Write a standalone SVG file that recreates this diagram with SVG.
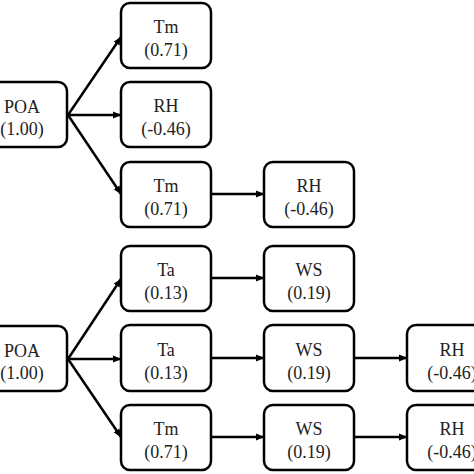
<svg xmlns="http://www.w3.org/2000/svg" width="474" height="474" viewBox="0 0 474 474">
<defs>
<style>
.box{fill:#fff;stroke:#000;stroke-width:2.5}
.t{font-family:"Liberation Serif","Times New Roman",serif;font-size:18px;fill:#222;text-anchor:middle}
.c{stroke:#000;stroke-width:2.5;fill:none;marker-end:url(#ah)}
</style>
<marker id="ah" markerUnits="userSpaceOnUse" markerWidth="9" markerHeight="8" refX="8" refY="4" orient="auto">
<path d="M0,0.5 L8.5,4 L0,7.5 z" fill="#000"/>
</marker>
</defs>
<rect width="474" height="474" fill="#fff"/>
<g id="connectors">
<line class="c" x1="68" y1="115" x2="121" y2="37"/>
<line class="c" x1="68" y1="115" x2="121" y2="115"/>
<line class="c" x1="68" y1="115" x2="121" y2="194"/>
<line class="c" x1="211" y1="194" x2="264" y2="194"/>
<line class="c" x1="68" y1="359" x2="121" y2="279"/>
<line class="c" x1="68" y1="359" x2="121" y2="359"/>
<line class="c" x1="68" y1="359" x2="121" y2="437"/>
<line class="c" x1="211" y1="278" x2="264" y2="278"/>
<line class="c" x1="211" y1="358" x2="264" y2="358"/>
<line class="c" x1="211" y1="437" x2="264" y2="437"/>
<line class="c" x1="353" y1="358" x2="407" y2="358"/>
<line class="c" x1="353" y1="437" x2="407" y2="437"/>
</g>
<g id="poa1"><rect class="box" x="-23" y="82" width="90" height="65" rx="9"/><text class="t" x="22" y="113">POA</text><text class="t" x="22" y="135">(1.00)</text></g>
<g id="tm1"><rect class="box" x="121" y="3" width="90" height="65" rx="9"/><text class="t" x="166" y="33">Tm</text><text class="t" x="166" y="56">(0.71)</text></g>
<g id="rh1"><rect class="box" x="121" y="82" width="90" height="65" rx="9"/><text class="t" x="166" y="112">RH</text><text class="t" x="166" y="135">(-0.46)</text></g>
<g id="tm2"><rect class="box" x="121" y="162" width="90" height="65" rx="9"/><text class="t" x="166" y="192">Tm</text><text class="t" x="166" y="215">(0.71)</text></g>
<g id="rh2"><rect class="box" x="264" y="162" width="90" height="65" rx="9"/><text class="t" x="309" y="192">RH</text><text class="t" x="309" y="215">(-0.46)</text></g>
<g id="poa2"><rect class="box" x="-23" y="326" width="90" height="65" rx="9"/><text class="t" x="22" y="357">POA</text><text class="t" x="22" y="379">(1.00)</text></g>
<g id="ta1"><rect class="box" x="121" y="246" width="90" height="65" rx="9"/><text class="t" x="166" y="276">Ta</text><text class="t" x="166" y="299">(0.13)</text></g>
<g id="ws1"><rect class="box" x="264" y="246" width="90" height="65" rx="9"/><text class="t" x="309" y="276">WS</text><text class="t" x="309" y="299">(0.19)</text></g>
<g id="ta2"><rect class="box" x="121" y="325" width="90" height="66" rx="9"/><text class="t" x="166" y="356">Ta</text><text class="t" x="166" y="379">(0.13)</text></g>
<g id="ws2"><rect class="box" x="264" y="325" width="90" height="66" rx="9"/><text class="t" x="309" y="356">WS</text><text class="t" x="309" y="379">(0.19)</text></g>
<g id="rh3"><rect class="box" x="407" y="325" width="90" height="66" rx="9"/><text class="t" x="452" y="356">RH</text><text class="t" x="452" y="379">(-0.46)</text></g>
<g id="tm3"><rect class="box" x="121" y="405" width="90" height="65" rx="9"/><text class="t" x="166" y="435">Tm</text><text class="t" x="166" y="458">(0.71)</text></g>
<g id="ws3"><rect class="box" x="264" y="405" width="90" height="65" rx="9"/><text class="t" x="309" y="435">WS</text><text class="t" x="309" y="458">(0.19)</text></g>
<g id="rh4"><rect class="box" x="407" y="405" width="90" height="65" rx="9"/><text class="t" x="452" y="435">RH</text><text class="t" x="452" y="458">(-0.46)</text></g>
</svg>
